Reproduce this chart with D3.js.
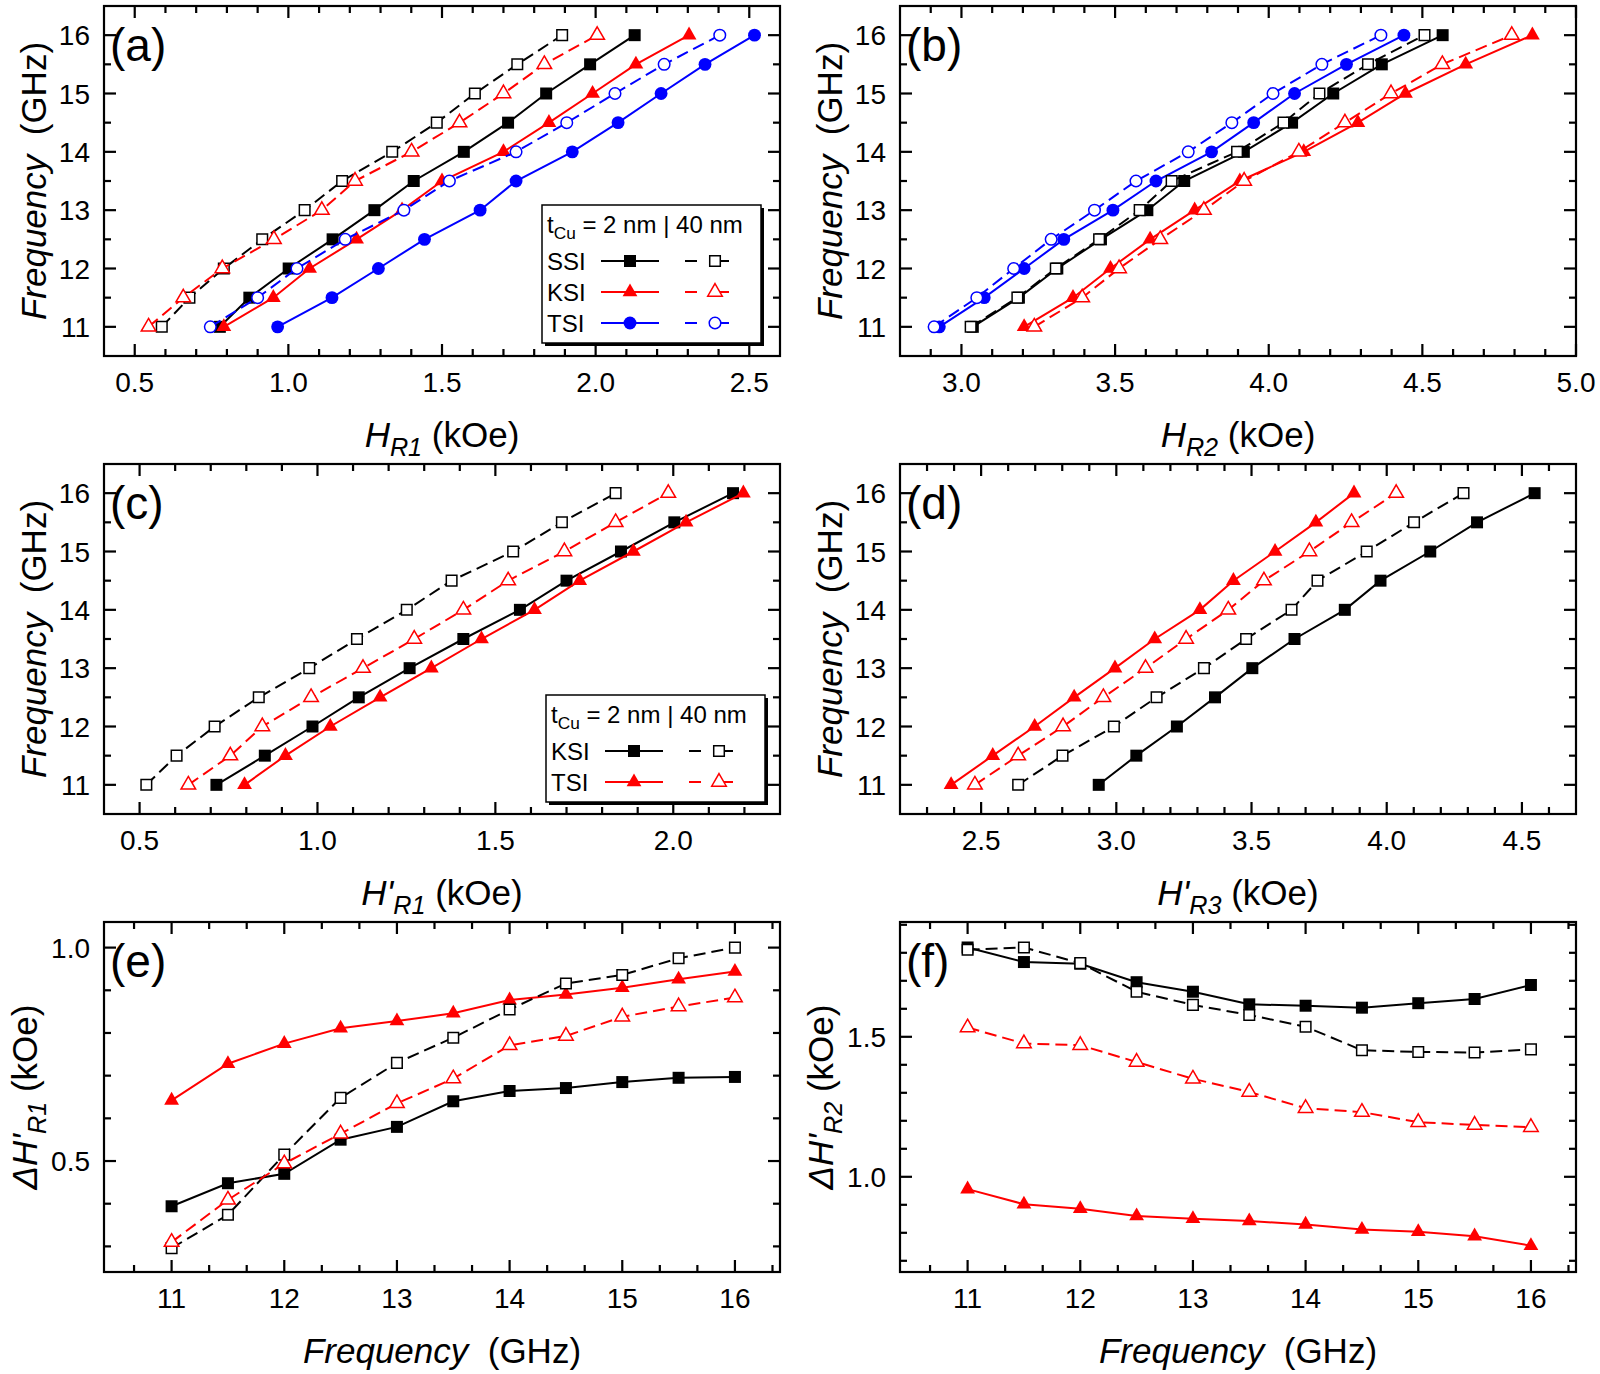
<!DOCTYPE html>
<html>
<head>
<meta charset="utf-8">
<script src="https://cdn.jsdelivr.net/npm/d3@7"></script>
<style>
  body { margin: 0; background: #fff; }
  svg { display: block; font-family: "Liberation Sans", Arial, sans-serif; }
</style>
</head>
<body>
<svg id="fig" width="1600" height="1374"></svg>
<script>
// ---- data ----
// every series is sampled at the same frequencies (GHz)
var freq = [11, 11.5, 12, 12.5, 13, 13.5, 14, 14.5, 15, 15.5, 16]

// (a) H_R1 (kOe); "2" = t_Cu 2 nm (solid), "40" = t_Cu 40 nm (dashed)
var aSSI2  = [0.777, 0.873, 1.001, 1.144, 1.280, 1.408, 1.571, 1.715, 1.839, 1.982, 2.127]
var aSSI40 = [0.588, 0.678, 0.790, 0.915, 1.053, 1.175, 1.338, 1.483, 1.607, 1.745, 1.891]
var aKSI2  = [0.790, 0.951, 1.069, 1.222, 1.370, 1.500, 1.700, 1.848, 1.990, 2.131, 2.304]
var aKSI40 = [0.545, 0.658, 0.785, 0.953, 1.109, 1.217, 1.401, 1.557, 1.700, 1.833, 2.005]
var aTSI2  = [0.965, 1.142, 1.293, 1.443, 1.624, 1.741, 1.924, 2.073, 2.213, 2.356, 2.517]
var aTSI40 = [0.746, 0.900, 1.028, 1.185, 1.376, 1.524, 1.741, 1.906, 2.063, 2.223, 2.404]

// (b) H_R2 (kOe)
var bSSI2  = [3.037, 3.187, 3.312, 3.454, 3.605, 3.725, 3.919, 4.076, 4.210, 4.368, 4.566]
var bSSI40 = [3.030, 3.182, 3.307, 3.448, 3.580, 3.684, 3.897, 4.048, 4.165, 4.323, 4.507]
var bKSI2  = [3.204, 3.363, 3.485, 3.614, 3.759, 3.906, 4.114, 4.290, 4.445, 4.641, 4.858]
var bKSI40 = [3.237, 3.393, 3.513, 3.647, 3.789, 3.920, 4.098, 4.248, 4.398, 4.565, 4.791]
var bTSI2  = [2.928, 3.074, 3.204, 3.333, 3.493, 3.633, 3.814, 3.951, 4.084, 4.253, 4.440]
var bTSI40 = [2.911, 3.050, 3.170, 3.292, 3.433, 3.568, 3.738, 3.880, 4.014, 4.173, 4.365]

// (c) H'_R1 (kOe)
var cKSI2  = [0.716, 0.852, 0.986, 1.116, 1.259, 1.410, 1.569, 1.700, 1.853, 2.003, 2.168]
var cKSI40 = [0.519, 0.604, 0.711, 0.835, 0.977, 1.111, 1.251, 1.377, 1.550, 1.687, 1.838]
var cTSI2  = [0.795, 0.910, 1.036, 1.176, 1.320, 1.461, 1.610, 1.737, 1.888, 2.036, 2.197]
var cTSI40 = [0.637, 0.755, 0.845, 0.982, 1.128, 1.272, 1.410, 1.536, 1.694, 1.838, 1.986]

// (d) H'_R3 (kOe)
var dKSI2  = [2.935, 3.074, 3.224, 3.365, 3.503, 3.659, 3.845, 3.977, 4.161, 4.334, 4.547]
var dKSI40 = [2.637, 2.801, 2.991, 3.149, 3.324, 3.480, 3.648, 3.744, 3.926, 4.101, 4.284]
var dTSI2  = [2.389, 2.543, 2.698, 2.844, 2.995, 3.142, 3.309, 3.433, 3.587, 3.738, 3.879]
var dTSI40 = [2.477, 2.637, 2.803, 2.952, 3.108, 3.258, 3.414, 3.546, 3.714, 3.870, 4.035]

// (e) linewidth dH'_R1 (kOe) vs frequency
var eKSI2  = [0.394, 0.448, 0.470, 0.550, 0.580, 0.640, 0.664, 0.671, 0.685, 0.695, 0.697]
var eKSI40 = [0.296, 0.374, 0.515, 0.648, 0.730, 0.789, 0.855, 0.916, 0.936, 0.975, 1.000]
var eTSI2  = [0.642, 0.728, 0.775, 0.811, 0.828, 0.846, 0.877, 0.890, 0.906, 0.926, 0.944]
var eTSI40 = [0.310, 0.409, 0.494, 0.564, 0.635, 0.693, 0.771, 0.793, 0.838, 0.862, 0.883]

// (f) linewidth dH'_R2 (kOe) vs frequency
var fKSI2  = [1.819, 1.767, 1.761, 1.695, 1.661, 1.616, 1.611, 1.604, 1.620, 1.635, 1.685]
var fKSI40 = [1.811, 1.819, 1.763, 1.661, 1.614, 1.578, 1.536, 1.452, 1.446, 1.444, 1.455]
var fTSI2  = [0.956, 0.902, 0.886, 0.860, 0.850, 0.842, 0.830, 0.812, 0.804, 0.788, 0.754]
var fTSI40 = [1.533, 1.476, 1.470, 1.410, 1.350, 1.303, 1.245, 1.231, 1.195, 1.185, 1.177]

// tick labels
var freqTicks = [11, 12, 13, 14, 15, 16]
var hr1Ticks  = [0.5, 1.0, 1.5, 2.0, 2.5]
var hr2Ticks  = [3.0, 3.5, 4.0, 4.5, 5.0]
var hpr1Ticks = [0.5, 1.0, 1.5, 2.0]
var hpr3Ticks = [2.5, 3.0, 3.5, 4.0, 4.5]
var dhr1Ticks = [0.5, 1.0]
var dhr2Ticks = [1.0, 1.5]

// ---- styling ----
var BLACK = '#000', RED = '#ff0000', BLUE = '#0000ff'
var W = 676, H = 350
var colX = [104, 900], rowY = [6, 464, 922]

var svg = d3.select('#fig')

var symbols = {
  square:   {filled: d3.symbol().type(d3.symbolSquare).size(144),  open: d3.symbol().type(d3.symbolSquare).size(112)},
  triangle: {filled: d3.symbol().type(d3.symbolTriangle).size(95), open: d3.symbol().type(d3.symbolTriangle).size(92)},
  circle:   {filled: d3.symbol().type(d3.symbolCircle).size(130),  open: d3.symbol().type(d3.symbolCircle).size(105)}
}

function marker(sel, shape, color, open){
  return sel.append('path')
    .attr('d', symbols[shape][open ? 'open' : 'filled']())
    .attr('fill', open ? '#fff' : color)
    .attr('stroke', color)
    .attr('stroke-width', open ? 1.5 : 0)
}

// text with italic / subscript runs
function richText(sel, parts, size){
  var t = sel.append('text').attr('font-size', size).attr('fill', '#000')
  var shift = 0
  parts.forEach(function(p){
    var ts = t.append('tspan').text(p.t)
    if (p.it) ts.attr('font-style', 'italic')
    var want = p.sub ? Math.round(size * 0.27) : 0
    if (want != shift){ ts.attr('dy', want - shift); shift = want }
    if (p.sub) ts.attr('font-size', size * 0.72)
  })
  return t
}

var freqTitle = [{t: 'Frequency', it: 1}, {t: '\u00a0\u00a0(GHz)'}]
function fieldTitle(pre, sub){
  return [{t: pre, it: 1}, {t: sub, it: 1, sub: 1}, {t: ' (kOe)'}]
}

function minorVals(dom, start, step, n){
  var out = []
  for (var k = -2; k < n; k++){
    var v = +(start + k * step).toFixed(6)
    if (v > dom[0] + 1e-6 && v < dom[1] - 1e-6) out.push(v)
  }
  return out
}

function drawPanel(p){
  var g = svg.append('g').attr('transform', 'translate(' + p.x0 + ',' + p.y0 + ')')
  var x = d3.scaleLinear().domain(p.xDom).range([0, W])
  var y = d3.scaleLinear().domain(p.yDom).range([H, 0])

  // data: solid (2 nm) first, dashed (40 nm) on top
  ;['solid', 'dashed'].forEach(function(kind){
    p.series.forEach(function(s){
      var vals = s[kind]
      var pts = freq.map(function(f, i){
        return p.freqOnX ? [x(f), y(vals[i])] : [x(vals[i]), y(f)]
      })
      g.append('path')
        .attr('d', d3.line()(pts))
        .attr('fill', 'none').attr('stroke', s.color).attr('stroke-width', 2)
        .attr('stroke-dasharray', kind == 'dashed' ? '12,6' : null)
      pts.forEach(function(pt){
        marker(g, s.shape, s.color, kind == 'dashed')
          .attr('transform', 'translate(' + pt[0] + ',' + pt[1] + ')')
      })
    })
  })

  // frame
  g.append('rect').attr('width', W).attr('height', H)
    .attr('fill', 'none').attr('stroke', '#000').attr('stroke-width', 2.2)

  // inward ticks on all four sides, as small filled bars
  var tk = g.append('g').attr('fill', '#000')
  var tw = 2.2
  function xt(vals, len){
    vals.forEach(function(v){
      tk.append('rect').attr('x', x(v) - tw / 2).attr('y', H - len).attr('width', tw).attr('height', len)
      tk.append('rect').attr('x', x(v) - tw / 2).attr('y', 0).attr('width', tw).attr('height', len)
    })
  }
  function yt(vals, len){
    vals.forEach(function(v){
      tk.append('rect').attr('x', 0).attr('y', y(v) - tw / 2).attr('width', len).attr('height', tw)
      tk.append('rect').attr('x', W - len).attr('y', y(v) - tw / 2).attr('width', len).attr('height', tw)
    })
  }
  xt(p.xMajor, 12); xt(p.xMinor, 7)
  yt(p.yMajor, 12); yt(p.yMinor, 7)

  // tick labels
  g.append('g').selectAll('text').data(p.xMajor).join('text')
    .attr('x', function(v){ return x(v) }).attr('y', H + 36)
    .attr('text-anchor', 'middle').attr('font-size', 28)
    .text(p.xFmt)
  g.append('g').selectAll('text').data(p.yMajor).join('text')
    .attr('x', -14).attr('y', function(v){ return y(v) + 10 })
    .attr('text-anchor', 'end').attr('font-size', 28)
    .text(p.yFmt)

  // axis titles
  richText(g, p.xTitle, 35).attr('x', W / 2).attr('y', H + 91).attr('text-anchor', 'middle')
  richText(g.append('g').attr('transform', 'translate(' + p.yTitleX + ',' + (H / 2) + ') rotate(-90)'), p.yTitle, 35)
    .attr('text-anchor', 'middle')

  // panel letter
  g.append('text').text('(' + p.id + ')')
    .attr('x', 6).attr('y', 55).attr('font-size', 46)

  if (p.legend) drawLegend(g, p.legend.x - p.x0, p.legend.y - p.y0, p.series)
}

function drawLegend(g, lx, ly, series){
  var bw = 219, bh = 45 + series.length * 31
  var lg = g.append('g').attr('transform', 'translate(' + lx + ',' + ly + ')')
  lg.append('rect').attr('x', 3).attr('y', 3).attr('width', bw).attr('height', bh).attr('fill', '#000')
  lg.append('rect').attr('width', bw).attr('height', bh)
    .attr('fill', '#fff').attr('stroke', '#000').attr('stroke-width', 1.5)
  richText(lg, [{t: 't'}, {t: 'Cu', sub: 1}, {t: ' = 2 nm | 40 nm'}], 24)
    .attr('x', 5).attr('y', 28)
  series.forEach(function(s, i){
    var cy = 56 + i * 31
    lg.append('text').text(s.name).attr('x', 5).attr('y', cy + 9).attr('font-size', 24)
    lg.append('line').attr('x1', 59).attr('x2', 117).attr('y1', cy).attr('y2', cy)
      .attr('stroke', s.color).attr('stroke-width', 2)
    marker(lg, s.shape, s.color, false).attr('transform', 'translate(88,' + cy + ')')
    lg.append('line').attr('x1', 143).attr('x2', 187).attr('y1', cy).attr('y2', cy)
      .attr('stroke', s.color).attr('stroke-width', 2).attr('stroke-dasharray', '12,18,20')
    marker(lg, s.shape, s.color, true).attr('transform', 'translate(173,' + cy + ')')
  })
}

var fmt1 = d3.format('.1f'), fmtD = d3.format('d')
var freqDom = [10.5, 16.5], freqDomX = [10.4, 16.4]
var freqMinorY = minorVals(freqDom, 11.5, 1, 8)
var freqMinorX = minorVals(freqDomX, 11, 1 / 3, 20).filter(function(v){ return Math.abs(v - Math.round(v)) > 1e-3 })
function notIn(list){ return function(v){ return list.indexOf(v) < 0 } }

var threeSeries = function(ssi2, ssi40, ksi2, ksi40, tsi2, tsi40){
  return [
    {name: 'SSI', color: BLACK, shape: 'square',   solid: ssi2, dashed: ssi40},
    {name: 'KSI', color: RED,   shape: 'triangle', solid: ksi2, dashed: ksi40},
    {name: 'TSI', color: BLUE,  shape: 'circle',   solid: tsi2, dashed: tsi40}
  ]
}
var twoSeries = function(ksi2, ksi40, tsi2, tsi40){
  return [
    {name: 'KSI', color: BLACK, shape: 'square',   solid: ksi2, dashed: ksi40},
    {name: 'TSI', color: RED,   shape: 'triangle', solid: tsi2, dashed: tsi40}
  ]
}

var panels = [
  {id: 'a', x0: colX[0], y0: rowY[0], xDom: [0.4, 2.6], yDom: freqDom,
    xMajor: hr1Ticks, xMinor: minorVals([0.4, 2.6], 0.4, 0.1, 24).filter(notIn(hr1Ticks)),
    yMajor: freqTicks, yMinor: freqMinorY, xFmt: fmt1, yFmt: fmtD,
    xTitle: fieldTitle('H', 'R1'), yTitle: freqTitle, yTitleX: -58,
    series: threeSeries(aSSI2, aSSI40, aKSI2, aKSI40, aTSI2, aTSI40), legend: {x: 542, y: 205}},
  {id: 'b', x0: colX[1], y0: rowY[0], xDom: [2.8, 5.0], yDom: freqDom,
    xMajor: hr2Ticks, xMinor: minorVals([2.8, 5.0], 2.8, 0.1, 24).filter(notIn(hr2Ticks)),
    yMajor: freqTicks, yMinor: freqMinorY, xFmt: fmt1, yFmt: fmtD,
    xTitle: fieldTitle('H', 'R2'), yTitle: freqTitle, yTitleX: -58,
    series: threeSeries(bSSI2, bSSI40, bKSI2, bKSI40, bTSI2, bTSI40)},
  {id: 'c', x0: colX[0], y0: rowY[1], xDom: [0.4, 2.3], yDom: freqDom,
    xMajor: hpr1Ticks, xMinor: minorVals([0.4, 2.3], 0.4, 0.1, 21).filter(notIn(hpr1Ticks)),
    yMajor: freqTicks, yMinor: freqMinorY, xFmt: fmt1, yFmt: fmtD,
    xTitle: fieldTitle("H'", 'R1'), yTitle: freqTitle, yTitleX: -58,
    series: twoSeries(cKSI2, cKSI40, cTSI2, cTSI40), legend: {x: 546, y: 695}},
  {id: 'd', x0: colX[1], y0: rowY[1], xDom: [2.2, 4.7], yDom: freqDom,
    xMajor: hpr3Ticks, xMinor: minorVals([2.2, 4.7], 2.2, 0.1, 27).filter(notIn(hpr3Ticks)),
    yMajor: freqTicks, yMinor: freqMinorY, xFmt: fmt1, yFmt: fmtD,
    xTitle: fieldTitle("H'", 'R3'), yTitle: freqTitle, yTitleX: -58,
    series: twoSeries(dKSI2, dKSI40, dTSI2, dTSI40)},
  {id: 'e', x0: colX[0], y0: rowY[2], xDom: freqDomX, yDom: [0.24, 1.06], freqOnX: 1,
    xMajor: freqTicks, xMinor: freqMinorX,
    yMajor: dhr1Ticks, yMinor: minorVals([0.24, 1.06], 0.3, 0.1, 8).filter(notIn(dhr1Ticks)),
    xFmt: fmtD, yFmt: fmt1,
    xTitle: freqTitle, yTitle: [{t: '\u0394', it: 1}].concat(fieldTitle("H'", 'R1')), yTitleX: -67,
    series: twoSeries(eKSI2, eKSI40, eTSI2, eTSI40)},
  {id: 'f', x0: colX[1], y0: rowY[2], xDom: freqDomX, yDom: [0.66, 1.91], freqOnX: 1,
    xMajor: freqTicks, xMinor: freqMinorX,
    yMajor: dhr2Ticks, yMinor: minorVals([0.66, 1.91], 0.7, 0.1, 13).filter(notIn(dhr2Ticks)),
    xFmt: fmtD, yFmt: fmt1,
    xTitle: freqTitle, yTitle: [{t: '\u0394', it: 1}].concat(fieldTitle("H'", 'R2')), yTitleX: -67,
    series: twoSeries(fKSI2, fKSI40, fTSI2, fTSI40)}
]

panels.forEach(drawPanel)
</script>
</body>
</html>
